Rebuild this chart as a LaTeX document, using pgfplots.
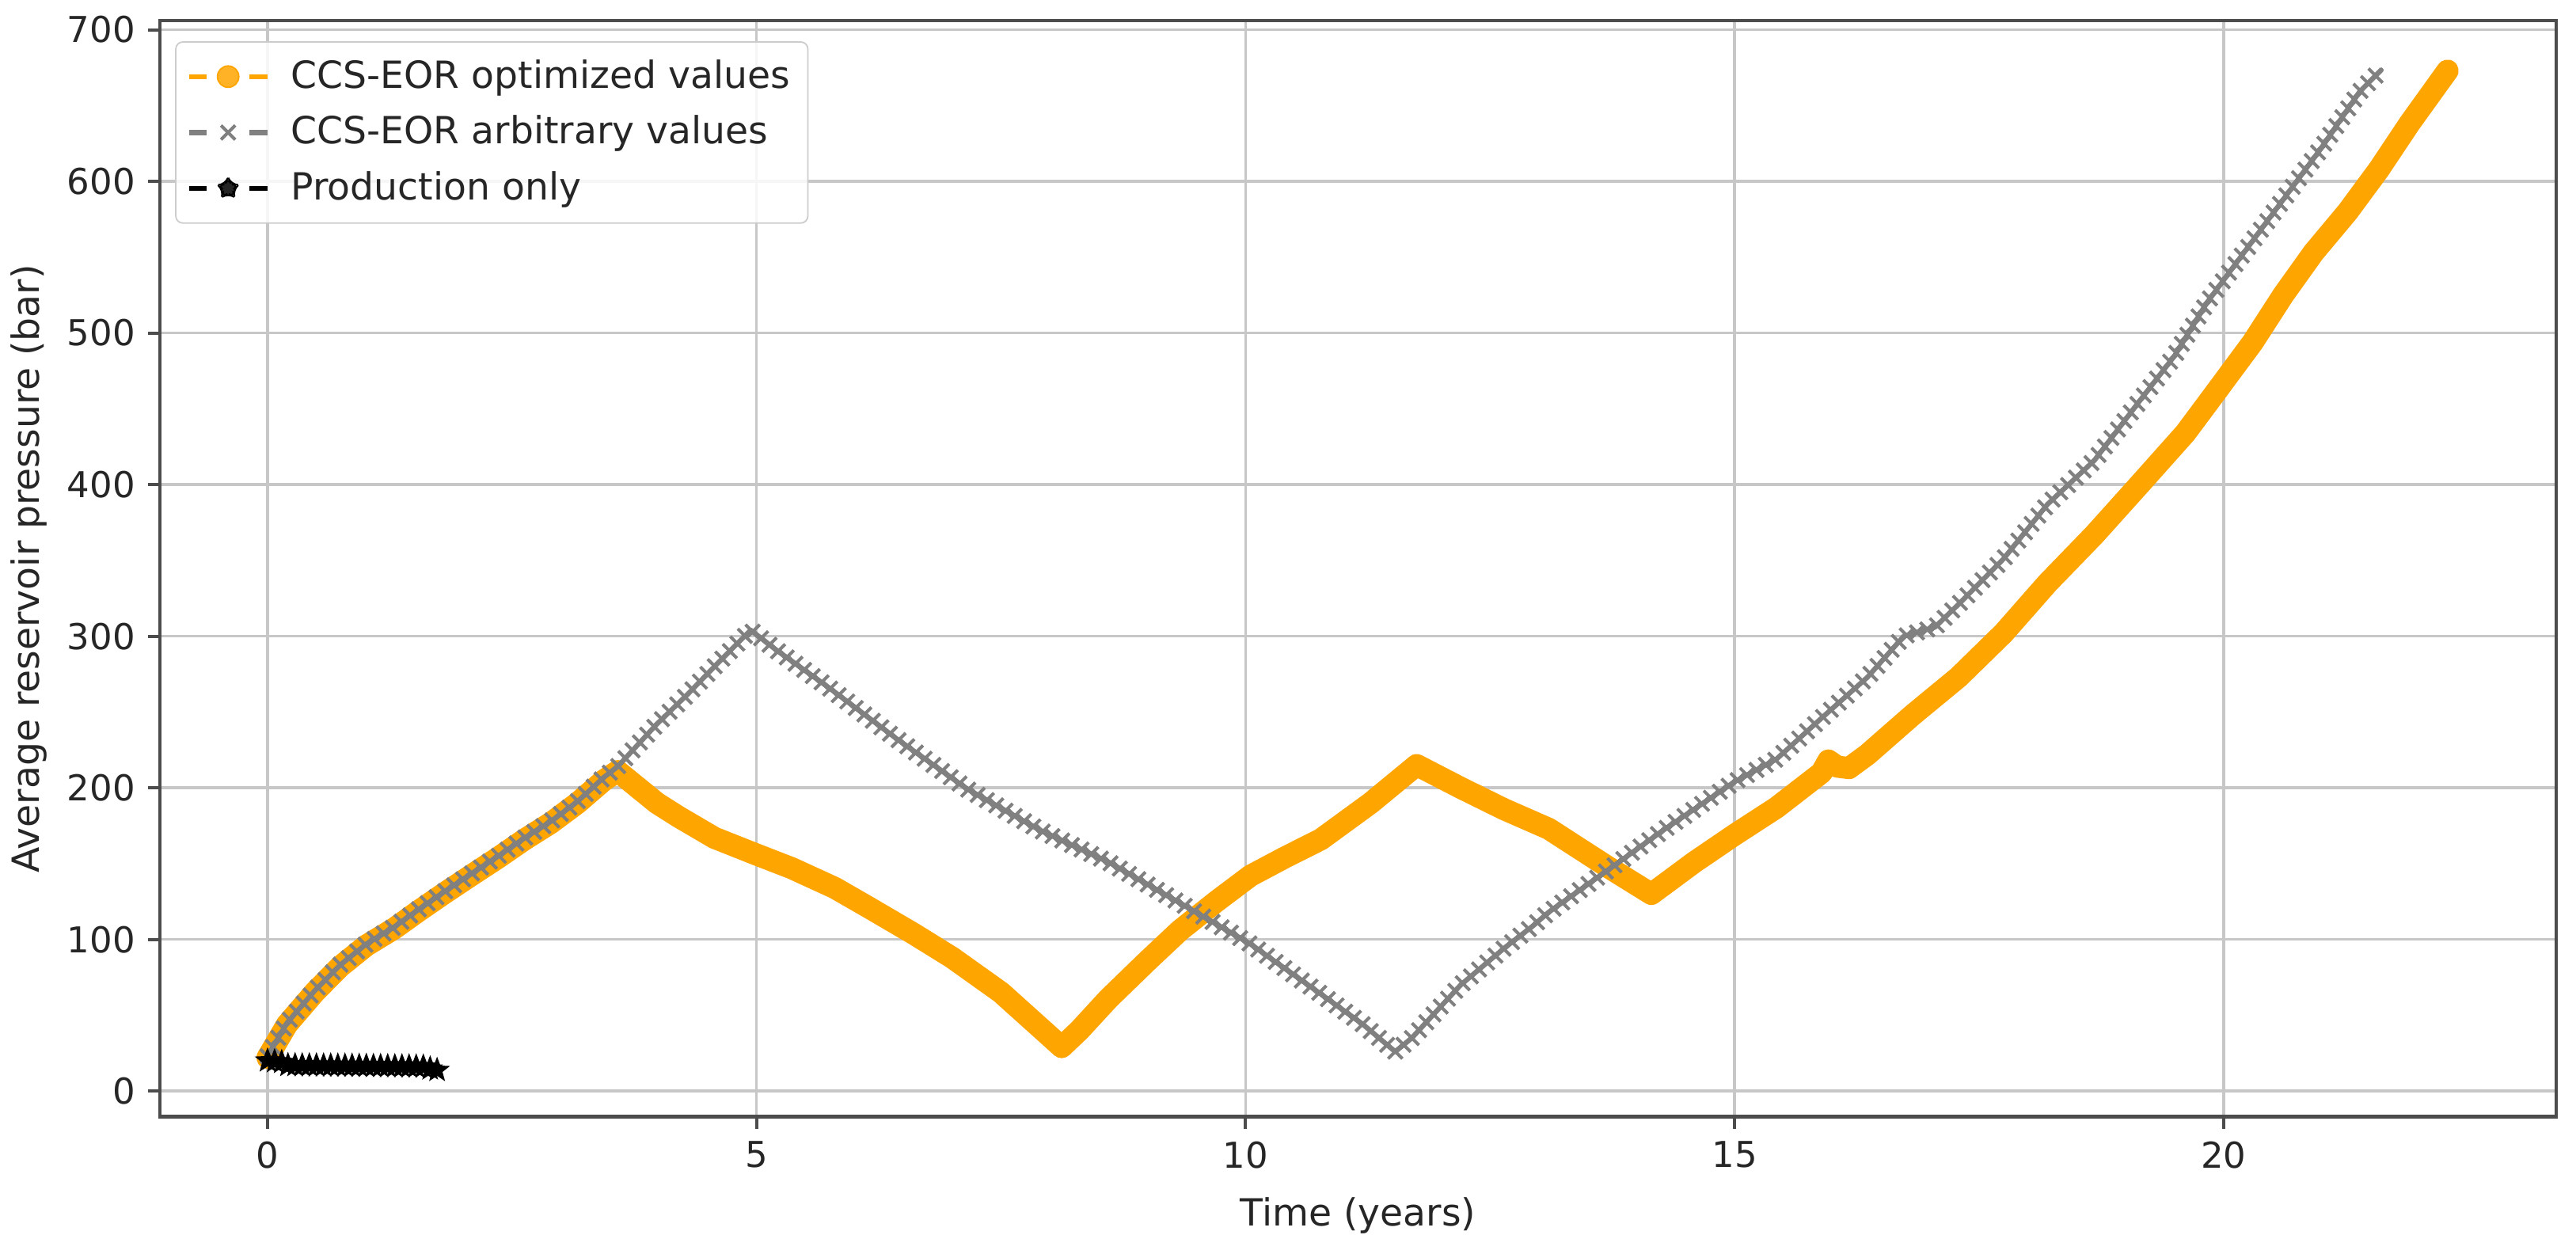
\documentclass[border=0pt]{standalone}
\usepackage{fontspec}
\setmainfont{DejaVu Sans}
\usepackage{pgfplots}
\usepackage{pgfplotstable}
\pgfplotsset{compat=1.18}
\usetikzlibrary{calc,decorations.markings}

\definecolor{mplorange}{HTML}{FFA500}
\definecolor{mplgray}{HTML}{808080}

% filled five-point star around the origin
\newcommand{\fstar}[1]{\fill (90:#1) -- (126:{0.42*#1}) -- (162:#1) -- (198:{0.42*#1}) -- (234:#1) -- (270:{0.42*#1}) -- (306:#1) -- (342:{0.42*#1}) -- (18:#1) -- (54:{0.42*#1}) -- cycle;}
\newcommand{\xcross}{\draw[mplgray, line width=0.9pt] (-2pt,-2pt) -- (2pt,2pt) (-2pt,2pt) -- (2pt,-2pt);}

\pgfplotstableread{
t p
0.00 22
0.20 44
0.48 65
0.74 82
1.01 96
1.29 107
1.55 119
1.82 131
2.10 143
2.36 154
2.63 166
2.90 177
3.17 190
3.44 205
3.58 211
3.98 190
4.20 181
4.57 167
5.00 156
5.36 147
5.80 134
6.15 121
6.60 104
7.00 88
7.50 65
8.00 36
8.12 29
8.30 40
8.60 61
9.00 86
9.33 106
9.70 125
10.05 142
10.40 154
10.77 166
11.28 190
11.75 215
12.20 200
12.64 186
13.10 173
13.70 148
14.15 130
14.59 151
15.00 169
15.43 187
15.89 210
15.96 218
16.05 214
16.17 213
16.36 222
16.82 248
17.29 273
17.75 302
18.20 335
18.68 367
19.14 400
19.61 434
19.91 460
20.30 494
20.61 525
20.92 553
21.27 580
21.59 608
21.90 638
22.29 673
}\optim

\pgfplotstableread{
t p
0.00 23
0.20 45
0.48 66
0.74 83
1.01 97
1.29 108
1.55 120
1.82 132
2.10 144
2.36 155
2.63 167
2.90 178
3.17 191
3.44 207
3.58 214
3.98 242
4.30 262
4.60 282
4.94 304
5.20 291
5.72 267
6.44 232
7.16 199
7.90 172
8.60 151
9.33 124
10.05 97
10.77 64
11.20 44
11.53 26
11.70 35
12.20 70
12.64 94
12.94 109
13.10 118
13.71 146
14.27 172
15.00 204
15.43 219
15.89 246
16.36 273
16.73 300
17.05 306
17.29 321
17.75 351
18.20 387
18.68 416
19.14 455
19.50 485
19.83 520
20.22 554
20.61 588
21.00 622
21.39 659
21.62 674
}\arbit

\pgfplotstableread{
t p
0.00 20
0.15 19
0.20 17
1.00 16.5
1.60 16
1.70 14
1.77 13.5
}\prodonly

\begin{document}
\begin{tikzpicture}
\begin{axis}[
  scale only axis, width=672.6pt, height=307.7pt,
  xmin=-1.1, xmax=23.4, ymin=-17, ymax=706,
  xtick={0,5,...,20}, ytick={0,100,...,700},
  grid=major, grid style={black!22, line width=0.8pt},
  axis line style={black!70, line width=1pt},
  tick style={black!70, line width=0.9pt},
  tick align=outside, major tick length=3.4pt, tick pos=left,
  ticklabel style={font=\fontsize{10}{12}\selectfont, text=black!85},
  /pgf/number format/assume math mode=true,
  xlabel={Time (years)}, ylabel={Average reservoir pressure (bar)},
  label style={font=\fontsize{10.5}{12.6}\selectfont, text=black!85},
  xlabel style={at={(axis description cs:0.5,-0.0903)}, anchor=center},
  ylabel style={at={(axis description cs:-0.0546,0.5)}, anchor=center},
  legend cell align=left,
  legend style={at={(rel axis cs:0.0063,0.9812)}, anchor=north west,
    draw=black!20, rounded corners=2pt, fill=white, fill opacity=0.85, text opacity=1,
    font=\fontsize{10.5}{12.6}\selectfont, text=black!85,
    inner xsep=3pt, inner ysep=3pt, row sep=2.2pt,
    /tikz/every odd column/.append style={column sep=4pt}},
]
% curves
\addplot[forget plot, mplorange, line width=6.2pt, line join=round, line cap=round]
  table[x=t, y=p] {\optim};
\addplot[forget plot, mplgray, line width=1.4pt, line join=round]
  table[x=t, y=p] {\arbit};
\addplot[forget plot, draw=none, postaction={decorate},
  decoration={markings, mark=between positions 0 and 1 step 3pt with {
    \pgftransformresetnontranslations \xcross}}]
  table[x=t, y=p] {\arbit};
\addplot[forget plot, black, line width=3pt]
  table[x=t, y=p] {\prodonly};
\addplot[forget plot, draw=none, postaction={decorate},
  decoration={markings, mark=between positions 0 and 1 step 2pt with {
    \pgftransformresetnontranslations \fstar{3.8pt}}}]
  table[x=t, y=p] {\prodonly};

% legend
\addlegendimage{legend image code/.code={
    \draw[mplorange, line width=1.4pt] (0pt,0pt) -- (5pt,0pt) (17pt,0pt) -- (22pt,0pt);
    \fill[mplorange] (11pt,0pt) circle (3pt);}}
\addlegendentry{CCS-EOR optimized values}
\addlegendimage{legend image code/.code={
    \draw[mplgray, line width=1.4pt] (0pt,0pt) -- (5pt,0pt) (17pt,0pt) -- (22pt,0pt);
    \begin{scope}[xshift=11pt]\xcross\end{scope}}}
\addlegendentry{CCS-EOR arbitrary values}
\addlegendimage{legend image code/.code={
    \draw[black, line width=1.4pt] (0pt,0pt) -- (5pt,0pt) (17pt,0pt) -- (22pt,0pt);
    \begin{scope}[xshift=11pt]\fstar{3.2pt}\end{scope}}}
\addlegendentry{Production only}
\end{axis}
\pgfresetboundingbox
\path[use as bounding box] ($(current axis.south west)+(-44.9pt,-33.1pt)$) rectangle ($(current axis.north east)+(5.6pt,5.8pt)$);
\end{tikzpicture}
\end{document}
